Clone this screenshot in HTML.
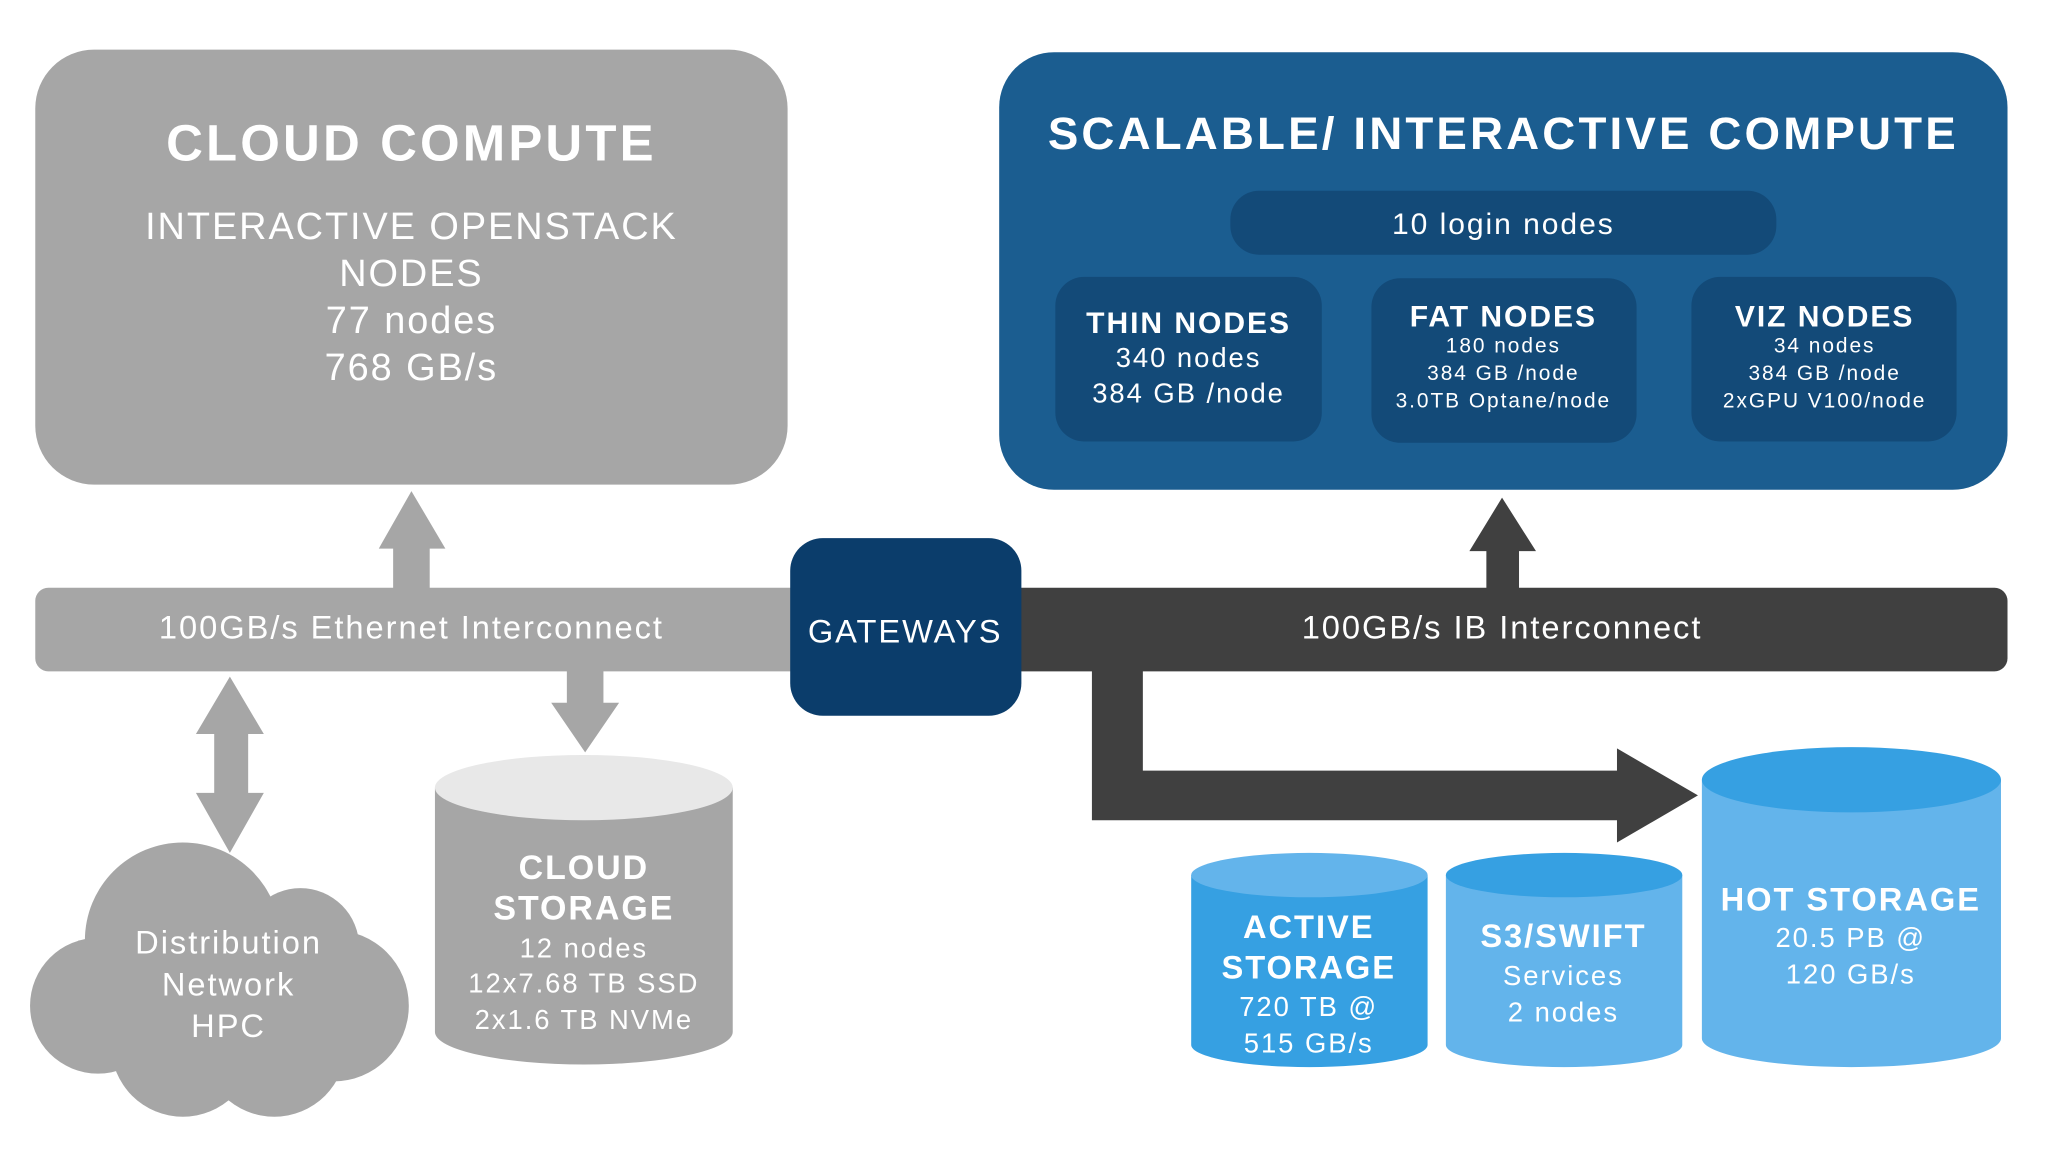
<!DOCTYPE html>
<html><head><meta charset="utf-8"><style>
html,body{margin:0;padding:0;background:#fff;}
svg{display:block;}
text{font-family:"Liberation Sans",sans-serif;fill:#fff;text-anchor:middle;letter-spacing:1.5px;}
.b{font-weight:bold;}
.t{letter-spacing:2.4px;}
</style></head><body>
<svg width="2048" height="1152" viewBox="0 0 1568 882" preserveAspectRatio="none" xmlns="http://www.w3.org/2000/svg">
<rect width="1568" height="882" fill="#fff"/>
<!-- Cloud compute -->
<rect x="27" y="38" width="576" height="333" rx="45" fill="#a6a6a6"/>
<text x="315" y="123" font-size="39" class="b t">CLOUD COMPUTE</text>
<text x="315" y="183" font-size="29">INTERACTIVE OPENSTACK</text>
<text x="315" y="219" font-size="29">NODES</text>
<text x="315" y="255" font-size="29">77 nodes</text>
<text x="315" y="291" font-size="29">768 GB/s</text>
<!-- Scalable -->
<rect x="765" y="40" width="772" height="335" rx="42" fill="#1b5d90"/>
<text x="1151" y="114" font-size="35" class="b t">SCALABLE/ INTERACTIVE COMPUTE</text>
<rect x="942" y="146" width="418" height="49" rx="22" fill="#134a78"/>
<text x="1151" y="179" font-size="23">10 login nodes</text>
<rect x="808" y="212" width="204" height="126" rx="22" fill="#134a78"/>
<rect x="1050" y="213" width="203" height="126" rx="22" fill="#134a78"/>
<rect x="1295" y="212" width="203" height="126" rx="22" fill="#134a78"/>
<text x="910" y="255" font-size="23" class="b">THIN NODES</text>
<text x="910" y="281" font-size="21">340 nodes</text>
<text x="910" y="308" font-size="21">384 GB /node</text>
<text x="1151" y="250" font-size="23" class="b">FAT NODES</text>
<text x="1151" y="270" font-size="16">180 nodes</text>
<text x="1151" y="291" font-size="16">384 GB /node</text>
<text x="1151" y="312" font-size="16">3.0TB Optane/node</text>
<text x="1397" y="250" font-size="23" class="b">VIZ NODES</text>
<text x="1397" y="270" font-size="16">34 nodes</text>
<text x="1397" y="291" font-size="16">384 GB /node</text>
<text x="1397" y="312" font-size="16">2xGPU V100/node</text>
<!-- arrows up -->
<polygon points="301,452 301,420 290,420 315,376 341,420 329,420 329,452" fill="#a6a6a6"/>
<polygon points="1138,452 1138,422 1125,422 1150,381 1176,422 1163,422 1163,452" fill="#404040"/>
<!-- bars -->
<rect x="27" y="450" width="590" height="64" rx="10" fill="#a6a6a6"/>
<rect x="770" y="450" width="767" height="64" rx="10" fill="#404040"/>
<text x="315" y="489" font-size="25">100GB/s Ethernet Interconnect</text>
<text x="1150" y="489" font-size="25">100GB/s IB Interconnect</text>
<rect x="605" y="412" width="177" height="136" rx="25" fill="#0b3d6b"/>
<text x="693" y="492" font-size="25">GATEWAYS</text>
<!-- down arrow gray -->
<polygon points="434,512 462,512 462,538 474,538 448,576 422,538 434,538" fill="#a6a6a6"/>
<!-- double arrow -->
<polygon points="176,518 202,562 190,562 190,607 202,607 176,653 150,607 164,607 164,562 150,562" fill="#a6a6a6"/>
<!-- L arrow -->
<polygon points="836,512 875,512 875,590 1238,590 1238,573 1300,609 1238,645 1238,628 836,628" fill="#404040"/>
<!-- cloud storage -->
<path d="M333,603 L333,790 A114,25 0 0 0 561,790 L561,603 Z" fill="#a6a6a6"/>
<ellipse cx="447" cy="603" rx="114" ry="25" fill="#e8e8e8"/>
<text x="447" y="673" font-size="26" class="b">CLOUD</text>
<text x="447" y="704" font-size="26" class="b">STORAGE</text>
<text x="447" y="733" font-size="21">12 nodes</text>
<text x="447" y="760" font-size="21">12x7.68 TB SSD</text>
<text x="447" y="788" font-size="21">2x1.6 TB NVMe</text>
<!-- cloud -->
<g fill="#a6a6a6">
<circle cx="140" cy="720" r="75"/>
<circle cx="230" cy="725" r="45"/>
<circle cx="75" cy="770" r="52"/>
<circle cx="255" cy="770" r="58"/>
<circle cx="140" cy="800" r="55"/>
<circle cx="210" cy="800" r="55"/>
<rect x="60" y="720" width="220" height="90"/>
</g>
<text x="175" y="730" font-size="25">Distribution</text>
<text x="175" y="762" font-size="25">Network</text>
<text x="175" y="794" font-size="25">HPC</text>
<!-- active storage -->
<path d="M912,670 L912,800 A90.5,17 0 0 0 1093,800 L1093,670 Z" fill="#36a0e2"/>
<ellipse cx="1002.5" cy="670" rx="90.5" ry="17" fill="#63b4eb"/>
<text x="1002" y="718" font-size="25" class="b">ACTIVE</text>
<text x="1002" y="749" font-size="25" class="b">STORAGE</text>
<text x="1002" y="778" font-size="21">720 TB @</text>
<text x="1002" y="806" font-size="21">515 GB/s</text>
<!-- s3 -->
<path d="M1107,670 L1107,800 A90.5,17 0 0 0 1288,800 L1288,670 Z" fill="#63b4eb"/>
<ellipse cx="1197.5" cy="670" rx="90.5" ry="17" fill="#36a0e2"/>
<text x="1197" y="725" font-size="25" class="b">S3/SWIFT</text>
<text x="1197" y="754" font-size="21">Services</text>
<text x="1197" y="782" font-size="21">2 nodes</text>
<!-- hot -->
<path d="M1303,597 L1303,795 A114.5,22 0 0 0 1532,795 L1532,597 Z" fill="#63b4eb"/>
<ellipse cx="1417.5" cy="597" rx="114.5" ry="25" fill="#36a0e2"/>
<text x="1417" y="697" font-size="25" class="b">HOT STORAGE</text>
<text x="1417" y="725" font-size="21">20.5 PB @</text>
<text x="1417" y="753" font-size="21">120 GB/s</text>
</svg>
</body></html>
